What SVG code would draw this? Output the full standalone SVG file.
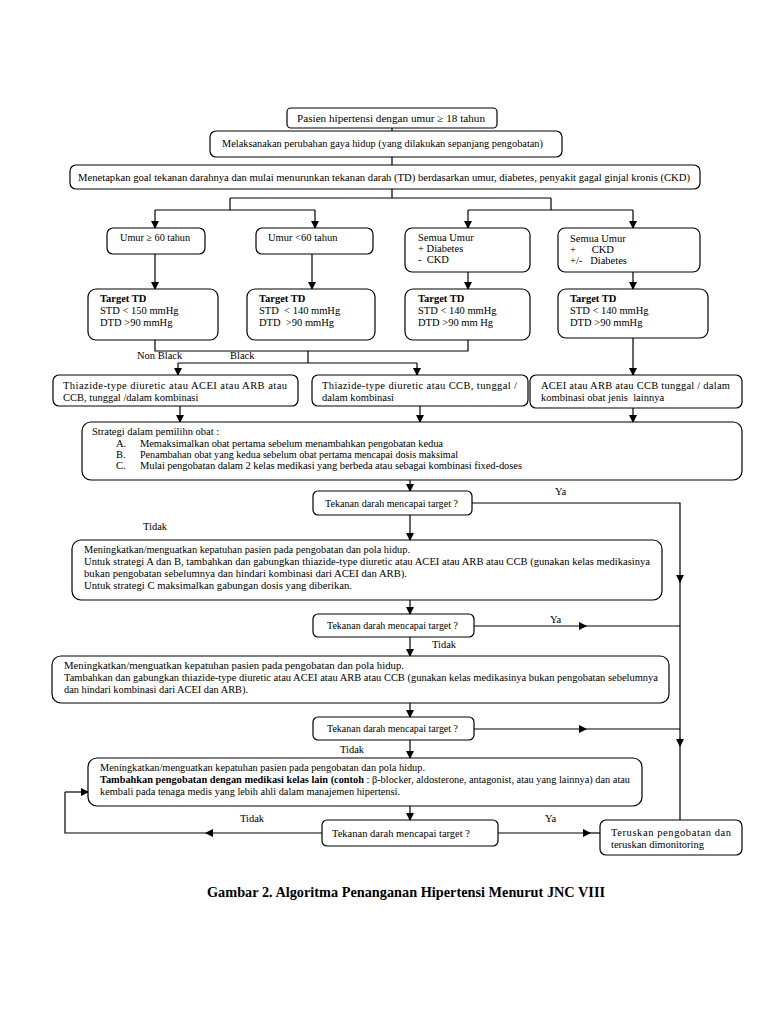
<svg xmlns="http://www.w3.org/2000/svg" width="768" height="1024" viewBox="0 0 768 1024">
<defs>
<marker id="ah" markerWidth="8" markerHeight="8" refX="7" refY="4" orient="auto" markerUnits="userSpaceOnUse">
<path d="M0,0 L8,4 L0,8 Z" fill="#000"/>
</marker>
<style>
.b{fill:#fff;stroke:#000;stroke-width:1.2}
.t{font-family:"Liberation Serif","Times New Roman",serif;font-size:10.5px;fill:#000}
.tb{font-family:"Liberation Serif","Times New Roman",serif;font-size:10.5px;font-weight:bold;fill:#000}
.c{fill:none;stroke:#000;stroke-width:1.2}
.a{fill:none;stroke:#000;stroke-width:1.2;marker-end:url(#ah)}
</style>
</defs>
<rect width="768" height="1024" fill="#fff"/>

<g id="connectors">
<path class="c" d="M392,128 V131 M392,157 V165 M392,189 V198 M230,198 H551 M230,198 V210 M551,198 V210 M155,210 H315 M468,210 H633"/>
<path class="a" d="M155,210 V228"/>
<path class="a" d="M315,210 V228"/>
<path class="a" d="M468,210 V228"/>
<path class="a" d="M633,210 V228"/>
<path class="a" d="M155,254 V289"/>
<path class="a" d="M312,254 V289"/>
<path class="a" d="M468,272 V289"/>
<path class="a" d="M633,272 V289"/>
<path class="c" d="M155,340 V351 H468 V340 M308,351 V363 M178,363 H417"/>
<path class="a" d="M178,363 V375"/>
<path class="a" d="M417,363 V375"/>
<path class="a" d="M633,338 V375"/>
<path class="a" d="M180,406 V422"/>
<path class="a" d="M420,406 V422"/>
<path class="a" d="M633,408 V422"/>
<path class="a" d="M410,480 V491"/>
<path class="a" d="M410,515 V540"/>
<path class="a" d="M410,600 V614"/>
<path class="a" d="M410,637 V656"/>
<path class="a" d="M410,703 V717"/>
<path class="a" d="M410,740 V758"/>
<path class="a" d="M410,806 V820"/>
<path class="c" d="M472,503 H680 V580"/>
<path class="a" d="M680,575 V582"/>
<path class="c" d="M680,580 V744"/>
<path class="a" d="M680,738 V746"/>
<path class="c" d="M680,744 V820"/>
<path class="a" d="M474,626 H586"/>
<path class="c" d="M580,626 H680"/>
<path class="a" d="M474,729 H586"/>
<path class="c" d="M580,729 H680"/>
<path class="a" d="M498,833 H590"/>
<path class="c" d="M585,833 H600"/>
<path class="a" d="M322,833 H206"/>
<path class="c" d="M210,833 H65 V792"/>
<path class="a" d="M65,792 H88"/>
</g>

<g id="n_pasien">
<rect class="b" x="287" y="108" width="210" height="20" rx="4" stroke-width="1.6"/>
<text class="t" x="297" y="122" textLength="188" lengthAdjust="spacingAndGlyphs">Pasien hipertensi dengan umur ≥ 18 tahun</text>
</g>
<g id="n_gaya">
<rect class="b" x="210" y="131" width="352" height="26" rx="6"/>
<text class="t" x="222" y="147" textLength="321" lengthAdjust="spacingAndGlyphs">Melaksanakan perubahan gaya hidup (yang dilakukan sepanjang pengobatan)</text>
</g>
<g id="n_goal">
<rect class="b" x="70" y="165" width="630" height="24" rx="6"/>
<text class="t" x="78" y="181" textLength="612" lengthAdjust="spacingAndGlyphs">Menetapkan goal tekanan darahnya dan mulai menurunkan tekanan darah (TD) berdasarkan umur, diabetes, penyakit gagal ginjal kronis (CKD)</text>
</g>

<g id="n_umur60">
<rect class="b" x="107" y="228" width="98" height="26" rx="6"/>
<text class="t" x="120" y="241" textLength="70" lengthAdjust="spacingAndGlyphs">Umur ≥ 60 tahun</text>
</g>
<g id="n_umurlt60">
<rect class="b" x="256" y="228" width="117" height="26" rx="6"/>
<text class="t" x="268" y="241">Umur &lt;60 tahun</text>
</g>
<g id="n_diab">
<rect class="b" x="405" y="228" width="125" height="44" rx="7"/>
<text class="t" x="418" y="241">Semua Umur</text>
<text class="t" x="418" y="252">+ Diabetes</text>
<text class="t" x="418" y="263" xml:space="preserve">-  CKD</text>
</g>
<g id="n_ckd">
<rect class="b" x="558" y="228" width="142" height="44" rx="7"/>
<text class="t" x="570" y="242">Semua Umur</text>
<text class="t" x="570" y="253" xml:space="preserve">+      CKD</text>
<text class="t" x="570" y="264" xml:space="preserve">+/-   Diabetes</text>
</g>

<g id="n_t1">
<rect class="b" x="88" y="289" width="130" height="51" rx="8"/>
<text class="tb" x="100" y="302">Target TD</text>
<text class="t" x="100" y="314">STD &lt; 150 mmHg</text>
<text class="t" x="100" y="326">DTD &gt;90 mmHg</text>
</g>
<g id="n_t2">
<rect class="b" x="247" y="289" width="128" height="51" rx="8"/>
<text class="tb" x="259" y="302">Target TD</text>
<text class="t" x="259" y="314" xml:space="preserve">STD  &lt; 140 mmHg</text>
<text class="t" x="259" y="326" xml:space="preserve">DTD  &gt;90 mmHg</text>
</g>
<g id="n_t3">
<rect class="b" x="405" y="289" width="125" height="51" rx="8"/>
<text class="tb" x="418" y="302">Target TD</text>
<text class="t" x="418" y="314">STD &lt; 140 mmHg</text>
<text class="t" x="418" y="326">DTD &gt;90 mm Hg</text>
</g>
<g id="n_t4">
<rect class="b" x="558" y="289" width="150" height="49" rx="8"/>
<text class="tb" x="570" y="302">Target TD</text>
<text class="t" x="570" y="314">STD &lt; 140 mmHg</text>
<text class="t" x="570" y="326">DTD &gt;90 mmHg</text>
</g>

<g id="labels_race">
<text class="t" x="137" y="359">Non Black</text>
<text class="t" x="230" y="359">Black</text>
</g>

<g id="n_obat1">
<rect class="b" x="53" y="375" width="245" height="31" rx="6"/>
<text class="t" x="63" y="389" textLength="224" lengthAdjust="spacing">Thiazide-type diuretic atau ACEI atau ARB atau</text>
<text class="t" x="63" y="401">CCB, tunggal /dalam kombinasi</text>
</g>
<g id="n_obat2">
<rect class="b" x="312" y="375" width="216" height="31" rx="6"/>
<text class="t" x="322" y="389" textLength="195" lengthAdjust="spacing">Thiazide-type diuretic atau CCB, tunggal /</text>
<text class="t" x="322" y="401">dalam kombinasi</text>
</g>
<g id="n_obat3">
<rect class="b" x="530" y="375" width="212" height="33" rx="6"/>
<text class="t" x="541" y="389" textLength="189" lengthAdjust="spacing">ACEI atau ARB atau CCB tunggal / dalam</text>
<text class="t" x="541" y="401" xml:space="preserve">kombinasi obat jenis  lainnya</text>
</g>

<g id="n_strategi">
<rect class="b" x="82" y="422" width="660" height="58" rx="9"/>
<text class="t" x="92" y="435">Strategi dalam pemilihn obat :</text>
<text class="t" x="116" y="447">A.</text>
<text class="t" x="140" y="447" textLength="303" lengthAdjust="spacing">Memaksimalkan obat pertama sebelum menambahkan pengobatan kedua</text>
<text class="t" x="116" y="458">B.</text>
<text class="t" x="140" y="458" textLength="318" lengthAdjust="spacingAndGlyphs">Penambahan obat yang kedua sebelum obat pertama mencapai dosis maksimal</text>
<text class="t" x="116" y="469">C.</text>
<text class="t" x="140" y="469" textLength="382" lengthAdjust="spacing">Mulai pengobatan dalam 2 kelas medikasi yang berbeda atau sebagai kombinasi fixed-doses</text>
</g>

<g id="n_d1">
<rect class="b" x="313" y="491" width="159" height="24" rx="5"/>
<text class="t" x="325" y="507" textLength="133" lengthAdjust="spacingAndGlyphs">Tekanan darah mencapai target ?</text>
</g>
<g id="labels_d1">
<text class="t" x="555" y="495">Ya</text>
<text class="t" x="143" y="530">Tidak</text>
</g>

<g id="n_step1">
<rect class="b" x="72" y="540" width="590" height="60" rx="9"/>
<text class="t" x="84" y="553" textLength="326" lengthAdjust="spacingAndGlyphs">Meningkatkan/menguatkan kepatuhan pasien pada pengobatan dan pola hidup.</text>
<text class="t" x="84" y="565" textLength="566" lengthAdjust="spacingAndGlyphs">Untuk strategi A dan B, tambahkan dan gabungkan thiazide-type diuretic atau ACEI atau ARB atau CCB (gunakan kelas medikasinya</text>
<text class="t" x="84" y="577" textLength="323" lengthAdjust="spacingAndGlyphs">bukan pengobatan sebelumnya dan hindari kombinasi dari ACEI dan ARB).</text>
<text class="t" x="84" y="589" textLength="268" lengthAdjust="spacingAndGlyphs">Untuk strategi C maksimalkan gabungan dosis yang diberikan.</text>
</g>

<g id="n_d2">
<rect class="b" x="313" y="614" width="161" height="23" rx="5"/>
<text class="t" x="327" y="629" textLength="131" lengthAdjust="spacingAndGlyphs">Tekanan darah mencapai target ?</text>
</g>
<g id="labels_d2">
<text class="t" x="550" y="623">Ya</text>
<text class="t" x="432" y="648">Tidak</text>
</g>

<g id="n_step2">
<rect class="b" x="52" y="656" width="617" height="47" rx="9"/>
<text class="t" x="64" y="669" textLength="340" lengthAdjust="spacingAndGlyphs">Meningkatkan/menguatkan kepatuhan pasien pada pengobatan dan pola hidup.</text>
<text class="t" x="64" y="681" textLength="594" lengthAdjust="spacingAndGlyphs">Tambahkan dan gabungkan thiazide-type diuretic atau ACEI atau ARB atau CCB (gunakan kelas medikasinya bukan pengobatan sebelumnya</text>
<text class="t" x="64" y="693" textLength="184" lengthAdjust="spacingAndGlyphs">dan hindari kombinasi dari ACEI dan ARB).</text>
</g>

<g id="n_d3">
<rect class="b" x="313" y="717" width="161" height="23" rx="5"/>
<text class="t" x="327" y="732" textLength="131" lengthAdjust="spacingAndGlyphs">Tekanan darah mencapai target ?</text>
</g>
<g id="labels_d3">
<text class="t" x="340" y="753">Tidak</text>
</g>

<g id="n_step3">
<rect class="b" x="88" y="758" width="554" height="48" rx="9"/>
<text class="t" x="100" y="771" textLength="325" lengthAdjust="spacingAndGlyphs">Meningkatkan/menguatkan kepatuhan pasien pada pengobatan dan pola hidup.</text>
<text class="t" x="100" y="783" textLength="530" lengthAdjust="spacingAndGlyphs"><tspan font-weight="bold">Tambahkan pengobatan dengan medikasi kelas lain (contoh</tspan> : β-blocker, aldosterone, antagonist, atau yang lainnya) dan atau</text>
<text class="t" x="100" y="795" textLength="300" lengthAdjust="spacingAndGlyphs">kembali pada tenaga medis yang lebih ahli dalam manajemen hipertensi.</text>
</g>

<g id="n_d4">
<rect class="b" x="322" y="820" width="176" height="26" rx="5"/>
<text class="t" x="332" y="837" textLength="138" lengthAdjust="spacingAndGlyphs">Tekanan darah mencapai target ?</text>
</g>
<g id="labels_d4">
<text class="t" x="240" y="822">Tidak</text>
<text class="t" x="545" y="822">Ya</text>
</g>

<g id="n_teruskan">
<rect class="b" x="600" y="820" width="142" height="35" rx="6"/>
<text class="t" x="611" y="836" textLength="120" lengthAdjust="spacing">Teruskan pengobatan dan</text>
<text class="t" x="611" y="848">teruskan dimonitoring</text>
</g>

<g id="caption">
<text x="406" y="897" text-anchor="middle" font-family="Liberation Serif, Times New Roman, serif" font-size="15" font-weight="bold" textLength="398" lengthAdjust="spacingAndGlyphs">Gambar 2. Algoritma Penanganan Hipertensi Menurut JNC VIII</text>
</g>
</svg>
